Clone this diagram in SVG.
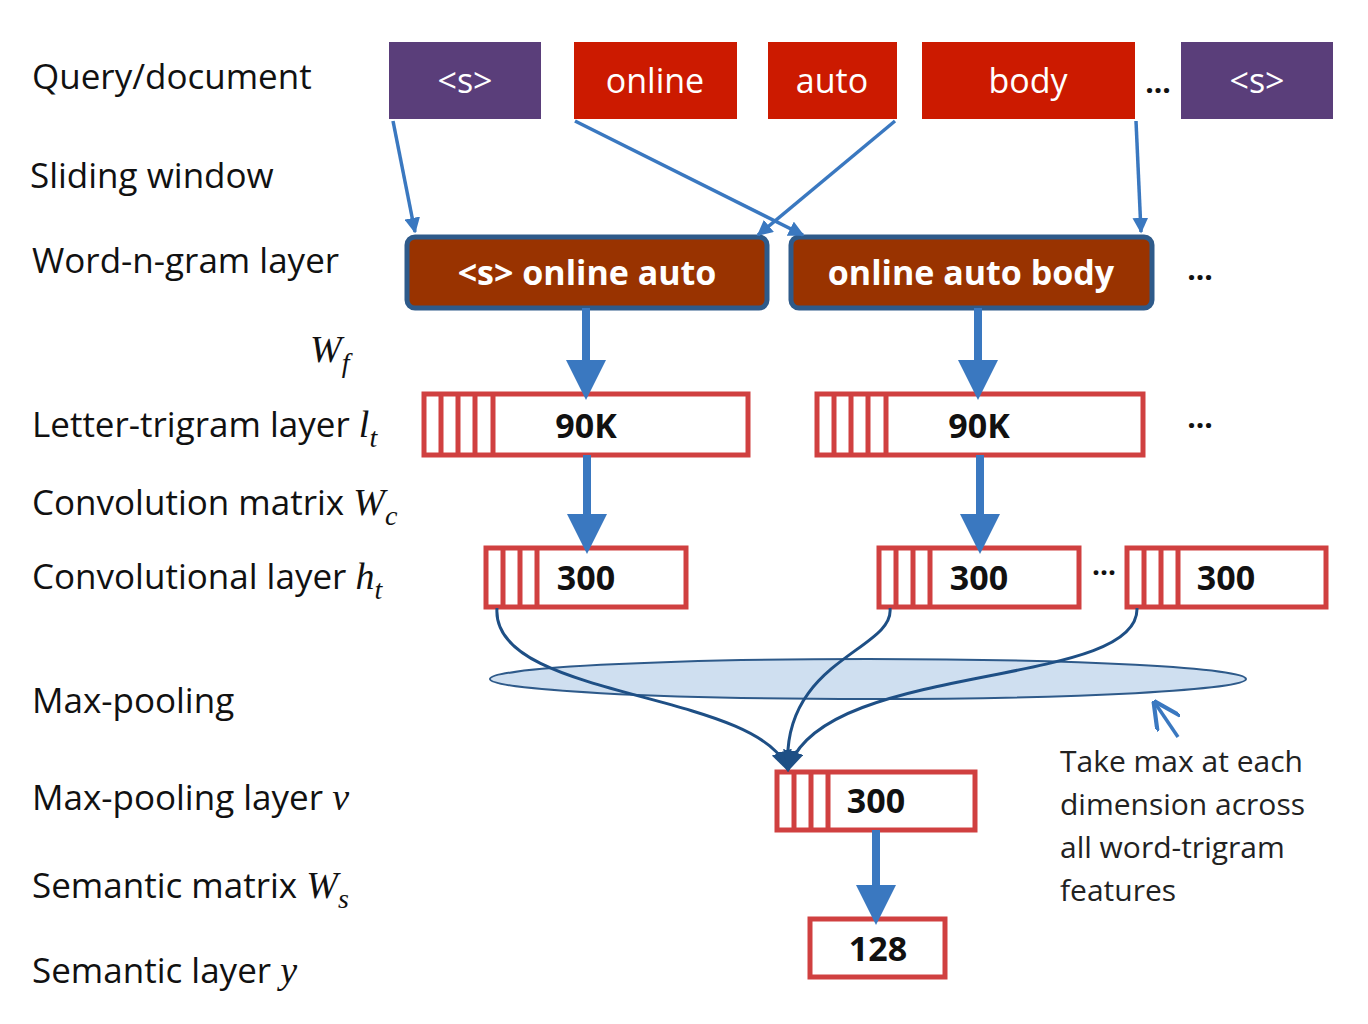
<svg xmlns="http://www.w3.org/2000/svg" width="1368" height="1024" viewBox="0 0 1368 1024">
<style>
.lbl{font-family:"Open Sans","Liberation Sans",sans-serif;font-size:35px;fill:#111}
.m{font-family:"Liberation Serif",serif;font-style:italic;font-size:38px;fill:#111}
.tok{font-family:"Open Sans","Liberation Sans",sans-serif;font-size:34px;fill:#fff;text-anchor:middle}
.num{font-family:"Open Sans","Liberation Sans",sans-serif;font-size:34px;font-weight:bold;fill:#111;text-anchor:middle}
.vec{fill:#fff;stroke:#d04040;stroke-width:5}
.st{stroke:#d04040;stroke-width:5}
.thin{stroke:#3a78c0;stroke-width:3.5;fill:none}
.thick{stroke:#3a78c0;stroke-width:8;fill:none}
.curve{stroke:#1e4f85;stroke-width:3;fill:none}
.note{font-family:"Open Sans","Liberation Sans",sans-serif;font-size:30px;fill:#222}
</style>
<defs>
<marker id="ah" viewBox="0 0 10 10" refX="8" refY="5" markerWidth="5" markerHeight="5" orient="auto"><path d="M0,0L10,5L0,10z" fill="#3a78c0"/></marker>
<marker id="ahb" viewBox="0 0 10 10" refX="9" refY="5" markerWidth="4.5" markerHeight="4.5" orient="auto" markerUnits="strokeWidth"><path d="M0,0L10,5L0,10z" fill="#3a78c0"/></marker>
<marker id="ahd" viewBox="0 0 10 10" refX="9" refY="5" markerWidth="7" markerHeight="7" orient="auto" markerUnits="strokeWidth"><path d="M0,0L10,5L0,10z" fill="#1e4f85"/></marker>
<marker id="aho" viewBox="0 0 10 10" refX="9" refY="5" markerWidth="8" markerHeight="8" orient="auto" markerUnits="strokeWidth"><path d="M0,0L10,5L0,10" fill="none" stroke="#3a78c0" stroke-width="1.5"/></marker>
</defs>
<g id="labels">
<text class="lbl" x="32" y="89">Query/document</text>
<text class="lbl" x="30" y="188">Sliding window</text>
<text class="lbl" x="32" y="273">Word-n-gram layer</text>
<text class="m" x="310" y="362">W<tspan font-size="28" dy="10">f</tspan></text>
<text class="lbl" x="32" y="437">Letter-trigram layer <tspan class="m">l<tspan font-size="28" dy="10">t</tspan></tspan></text>
<text class="lbl" x="32" y="515">Convolution matrix <tspan class="m">W<tspan font-size="28" dy="10">c</tspan></tspan></text>
<text class="lbl" x="32" y="589">Convolutional layer <tspan class="m">h<tspan font-size="28" dy="10">t</tspan></tspan></text>
<text class="lbl" x="32" y="713">Max-pooling</text>
<text class="lbl" x="32" y="810">Max-pooling layer <tspan class="m">v</tspan></text>
<text class="lbl" x="32" y="898">Semantic matrix <tspan class="m">W<tspan font-size="28" dy="10">s</tspan></tspan></text>
<text class="lbl" x="32" y="983">Semantic layer <tspan class="m">y</tspan></text>
</g>
<g id="tokens">
<rect x="389" y="42" width="152" height="77" fill="#5a3e7a"/><text class="tok" x="465" y="93">&lt;s&gt;</text>
<rect x="574" y="42" width="163" height="77" fill="#cc1a00"/><text class="tok" x="655" y="93">online</text>
<rect x="768" y="42" width="129" height="77" fill="#cc1a00"/><text class="tok" x="832" y="93">auto</text>
<rect x="922" y="42" width="213" height="77" fill="#cc1a00"/><text class="tok" x="1028" y="93">body</text>
<text class="num" x="1158" y="93" style="font-size:30px">...</text>
<rect x="1181" y="42" width="152" height="77" fill="#5a3e7a"/><text class="tok" x="1257" y="93">&lt;s&gt;</text>
</g>
<g id="ngrams">
<rect x="407" y="237" width="360" height="71" rx="8" fill="#993300" stroke="#2e5a8a" stroke-width="5"/><text class="tok" x="587" y="285" font-weight="bold">&lt;s&gt; online auto</text>
<rect x="791" y="237" width="361" height="71" rx="8" fill="#993300" stroke="#2e5a8a" stroke-width="5"/><text class="tok" x="971" y="285" font-weight="bold">online auto body</text>
<text class="num" x="1200" y="280" style="font-size:30px">...</text>
</g>
<g id="trigram">
<rect class="vec" x="424" y="394" width="324" height="61"/><path class="st" d="M441 394v61M458 394v61M475 394v61M493 394v61"/><text class="num" x="586" y="438">90K</text>
<rect class="vec" x="817" y="394" width="326" height="61"/><path class="st" d="M834 394v61M851 394v61M868 394v61M886 394v61"/><text class="num" x="979" y="438">90K</text>
<text class="num" x="1200" y="428" style="font-size:30px">...</text>
</g>
<g id="conv">
<rect class="vec" x="486" y="548" width="200" height="59"/><path class="st" d="M503 548v59M520 548v59M537 548v59"/><text class="num" x="586" y="590">300</text>
<rect class="vec" x="879" y="548" width="200" height="59"/><path class="st" d="M896 548v59M913 548v59M930 548v59"/><text class="num" x="979" y="590">300</text>
<text class="num" x="1104" y="575" style="font-size:28px">...</text>
<rect class="vec" x="1127" y="548" width="199" height="59"/><path class="st" d="M1144 548v59M1161 548v59M1178 548v59"/><text class="num" x="1226" y="590">300</text>
</g>
<g id="pool">
<ellipse cx="868" cy="679" rx="378" ry="20" fill="#cfdff0" stroke="#2e5a8a" stroke-width="2"/>
<rect class="vec" x="777" y="772" width="198" height="58"/><path class="st" d="M794 772v58M811 772v58M828 772v58"/><text class="num" x="876" y="813">300</text>
</g>
<g id="semantic">
<rect class="vec" x="810" y="919" width="135" height="58"/><text class="num" x="878" y="961">128</text>
</g>
<g id="connectors">
<path class="thin" d="M393 121L415 232" marker-end="url(#ahb)"/>
<path class="thin" d="M575 121L803 235" marker-end="url(#ahb)"/>
<path class="thin" d="M895 121L758 235" marker-end="url(#ahb)"/>
<path class="thin" d="M1136 121L1141 232" marker-end="url(#ahb)"/>
<path class="thick" d="M586 308V392" marker-end="url(#ah)"/>
<path class="thick" d="M978 308V392" marker-end="url(#ah)"/>
<path class="thick" d="M587 455V546" marker-end="url(#ah)"/>
<path class="thick" d="M980 455V546" marker-end="url(#ah)"/>
<path class="thick" d="M876 830V917" marker-end="url(#ah)"/>
<path class="curve" d="M497 608C490 700 760 690 788 770" marker-end="url(#ahd)"/>
<path class="curve" d="M890 608C895 650 780 660 788 770" marker-end="url(#ahd)"/>
<path class="curve" d="M1137 608C1140 690 820 660 788 770" marker-end="url(#ahd)"/>
<path class="thin" d="M1178 737L1155 703" stroke-width="3" marker-end="url(#aho)"/>
</g>
<g id="note">
<text class="note" x="1060" y="772">Take max at each</text>
<text class="note" x="1060" y="815">dimension across</text>
<text class="note" x="1060" y="858">all word-trigram</text>
<text class="note" x="1060" y="901">features</text>
</g>
</svg>
